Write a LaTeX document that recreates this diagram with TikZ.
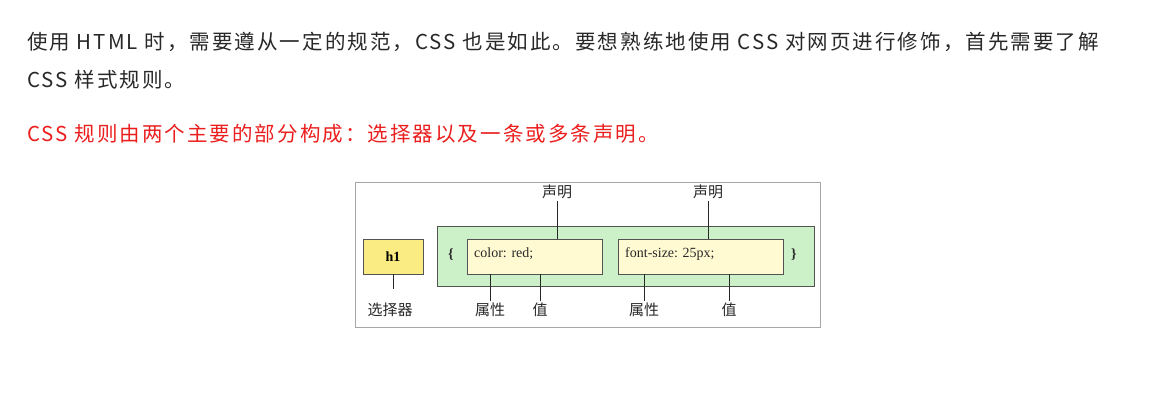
\documentclass[tikz,border=0pt]{standalone}
\usepackage{fontspec}
\setmainfont{Liberation Serif}
\newfontfamily\cjk{Noto Sans CJK SC}
\newfontfamily\cjkw[LetterSpace=10]{Noto Sans CJK SC}
\definecolor{gbox}{RGB}{204,240,200}
\definecolor{ybox}{RGB}{250,236,130}
\definecolor{lbox}{RGB}{255,250,210}
\definecolor{redt}{RGB}{235,30,30}
\definecolor{txt}{RGB}{40,40,40}
\tikzset{
  para/.style={anchor=west,inner sep=0,font=\cjkw\fontsize{20.5}{20.5}\selectfont,text=txt},
  lab/.style={inner sep=0,font=\cjk\fontsize{15}{15}\selectfont,text=txt},
  code/.style={anchor=west,inner sep=0,font=\fontsize{14}{14}\selectfont,text=txt},
  ln/.style={draw=txt,line width=0.8pt}
}
\begin{document}
\begin{tikzpicture}[x=1pt,y=-1pt]
\useasboundingbox (0,0) rectangle (1173,415);
\node[para] (p1) at (27,42) {使用 HTML 时，需要遵从一定的规范，CSS 也是如此。要想熟练地使用 CSS 对网页进行修饰，首先需要了解};
\node[para] (p2) at (27,80) {CSS 样式规则。};
\node[para,text=redt] (p3) at (27,134) {CSS 规则由两个主要的部分构成：选择器以及一条或多条声明。};
\draw[draw=gray!70,line width=1pt] (355,182) rectangle (820,327);
\draw[draw=txt!80,fill=gbox,line width=0.8pt] (437,226) rectangle (814,286);
\node[draw=txt!80,fill=ybox,line width=0.8pt,minimum width=60pt,minimum height=35pt,inner sep=0,font=\bfseries\fontsize{14}{14}\selectfont] (h1) at (393,256.5) {h1};
\node[draw=txt!80,fill=lbox,line width=0.8pt,minimum width=135pt,minimum height=35pt,inner sep=0] (d1) at (534.5,256.5) {};
\node[draw=txt!80,fill=lbox,line width=0.8pt,minimum width=165pt,minimum height=35pt,inner sep=0] (d2) at (700.5,256.5) {};
\node[code] (c1) at (474,254) {color: red;};
\node[code] (c2) at (625,254) {font-size: 25px;};
\node[code,font=\bfseries\fontsize{14}{14}\selectfont] (lb) at (448,255) {\{};
\node[code,font=\bfseries\fontsize{14}{14}\selectfont] (rb) at (791,255) {\}};
\node[lab] (s1) at (557,192) {声明};
\node[lab] (s2) at (708,192) {声明};
\draw[ln] (s1.south)++(0,2) -- (s1.south |- d1.north);
\draw[ln] (s2.south)++(0,2) -- (s2.south |- d2.north);
\node[lab] (sel) at (390,310) {选择器};
\draw[ln] (h1.south) -- ++(0,15);
\node[lab] (a1) at (490,310) {属性};
\node[lab] (v1) at (540,310) {值};
\node[lab] (a2) at (644,310) {属性};
\node[lab] (v2) at (729,310) {值};
\foreach \n in {a1,v1}{\draw[ln] (\n.north)++(0,-2) -- (\n.north |- d1.south);}
\foreach \n in {a2,v2}{\draw[ln] (\n.north)++(0,-2) -- (\n.north |- d2.south);}
\end{tikzpicture}
\end{document}
